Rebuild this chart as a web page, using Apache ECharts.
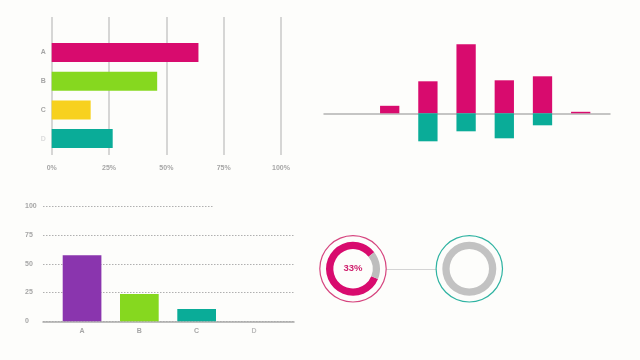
<!DOCTYPE html>
<html>
<head>
<meta charset="utf-8">
<script src="https://cdn.jsdelivr.net/npm/echarts@6/dist/echarts.min.js"></script>
<style>
html,body{margin:0;padding:0;background:#fdfdfb;}
#c{width:640px;height:360px;}
</style>
</head>
<body>
<div id="c"></div>
<script>
// ---- data ----
const hbarCategories = ['A', 'B', 'C', 'D'];
const hbarValues = [64, 46, 17, 26.6];
const pctTicks = [0, 25, 50, 75, 100];

const diffCategories = ['1', '2', '3', '4', '5', '6'];
const diffPositive = [7.5, 32, 69, 33, 37, 1.5];
const diffNegative = [0, -28, -18, -25, -12, 0];

const vbarCategories = ['A', 'B', 'C', 'D'];
const vbarValues = [57.4, 23.7, 10.7, 0];

const donutShare = [83.3, 16.7];
const donutLabel = '33%';

// ---- style ----
const MAG = '#d80b6e', GREEN = '#86d81f', YEL = '#f7d11f', TEAL = '#0aac98', PURPLE = '#8a35ae';
const lbl = {fontFamily: 'Liberation Sans', fontSize: 7, fontWeight: 'bold', color: '#a6a6a6'};
const hid = {show: false};

const chart = echarts.init(document.getElementById('c'));
chart.setOption({
  backgroundColor: '#fdfdfb',
  animation: false,
  grid: [
    {left: 51.7, width: 229.3, top: 17, height: 138},      // 0 top-left gridlines
    {left: 51.7, width: 229.3, top: 38.2, height: 114.7},  // 1 top-left bars
    {left: 324, width: 286, top: 13.3, height: 100},       // 2 top-right baseline
    {left: 370.6, width: 229.2, top: 33.3, height: 120},   // 3 top-right bars
    {left: 43, width: 251, top: 206.3, height: 115},       // 4 bottom-left axes
    {left: 43, width: 170, top: 206.3, height: 28.75},     // 5 partial 100 line
    {left: 53.4, width: 229.2, top: 206.3, height: 115},   // 6 bottom-left bars
    {left: 386.3, width: 49.7, top: 168.8, height: 100}    // 7 connector
  ],
  xAxis: [
    {gridIndex: 0, type: 'value', min: pctTicks[0], max: pctTicks[pctTicks.length - 1], interval: 25,
     axisLine: hid, axisTick: hid,
     splitLine: {show: true, lineStyle: {color: '#c9c9c9', width: 1.5}},
     axisLabel: Object.assign({formatter: '{value}%', margin: 10}, lbl)},
    {gridIndex: 1, type: 'value', min: 0, max: 100, show: false},
    {gridIndex: 2, type: 'value', min: 0, max: 1, axisLabel: hid, axisTick: hid, splitLine: hid,
     axisLine: {show: true, lineStyle: {color: '#b3b3b3', width: 1.5}}},
    {gridIndex: 3, type: 'category', data: diffCategories, show: false},
    {gridIndex: 4, type: 'value', min: 0, max: 1, axisLabel: hid, axisTick: hid, splitLine: hid,
     axisLine: {show: true, lineStyle: {color: '#a9a9a9', width: 1.5}}},
    {gridIndex: 5, type: 'value', show: false},
    {gridIndex: 6, type: 'category', data: vbarCategories, axisLine: hid, axisTick: hid,
     axisLabel: Object.assign({}, lbl, {margin: 6, color: function (v, i) { return i === 3 ? '#bdbdbd' : '#a6a6a6'; }})},
    {gridIndex: 7, type: 'value', min: 0, max: 1, axisLabel: hid, axisTick: hid, splitLine: hid,
     axisLine: {show: true, lineStyle: {color: '#d4d4d4', width: 1}}}
  ],
  yAxis: [
    {gridIndex: 0, type: 'value', show: false},
    {gridIndex: 1, type: 'category', data: hbarCategories, inverse: true, axisLine: hid, axisTick: hid,
     axisLabel: Object.assign({}, lbl, {margin: 6, color: function (v, i) { return i === 3 ? '#dcdcdc' : '#a6a6a6'; }})},
    {gridIndex: 2, type: 'value', show: false},
    {gridIndex: 3, type: 'value', min: -40, max: 80, show: false},
    {gridIndex: 4, type: 'value', min: 0, max: 100, interval: 25, axisLine: hid, axisTick: hid,
     splitLine: {show: true, showMaxLine: false, lineStyle: {color: '#b0b0b0', type: [1.5, 1.5], width: 1}},
     axisLabel: Object.assign({}, lbl, {align: 'left', margin: 18})},
    {gridIndex: 5, type: 'value', min: 75, max: 100, interval: 25, axisLine: hid, axisTick: hid, axisLabel: hid,
     splitLine: {show: true, showMinLine: false, lineStyle: {color: '#b0b0b0', type: [1.5, 1.5], width: 1}}},
    {gridIndex: 6, type: 'value', min: 0, max: 100, show: false},
    {gridIndex: 7, type: 'value', show: false}
  ],
  series: [
    {type: 'bar', xAxisIndex: 1, yAxisIndex: 1, barWidth: 19, silent: true,
     data: hbarValues.map((v, i) => ({value: v, itemStyle: {color: [MAG, GREEN, YEL, TEAL][i]}}))},
    {type: 'bar', xAxisIndex: 3, yAxisIndex: 3, barWidth: 19.3, barGap: '-100%', silent: true,
     itemStyle: {color: MAG}, data: diffPositive},
    {type: 'bar', xAxisIndex: 3, yAxisIndex: 3, barWidth: 19.3, barGap: '-100%', silent: true,
     itemStyle: {color: TEAL}, data: diffNegative},
    {type: 'bar', xAxisIndex: 6, yAxisIndex: 6, barWidth: 38.7, silent: true,
     data: vbarValues.map((v, i) => ({value: v, itemStyle: {color: [PURPLE, GREEN, TEAL, MAG][i]}}))},
    // left donut
    {type: 'pie', center: [353, 268.8], radius: [32.6, 33.8], silent: true, label: hid, labelLine: hid,
     itemStyle: {color: '#d6457f'}, data: [1]},
    {type: 'pie', center: [353, 268.8], radius: [19.7, 27], startAngle: -22, clockwise: true, silent: true,
     labelLine: hid,
     data: [
       {value: donutShare[0], itemStyle: {color: MAG},
        label: {show: true, position: 'center', formatter: donutLabel, fontFamily: 'Liberation Sans',
                fontSize: 9.5, fontWeight: 'bold', color: '#cf1f6d'}},
       {value: donutShare[1], itemStyle: {color: '#bdbdbd'}, label: hid}
     ]},
    // right donut
    {type: 'pie', center: [469.3, 268.8], radius: [32.6, 33.8], silent: true, label: hid, labelLine: hid,
     itemStyle: {color: '#2fb3a2'}, data: [1]},
    {type: 'pie', center: [469.3, 268.8], radius: [19.7, 27], silent: true, label: hid, labelLine: hid,
     itemStyle: {color: '#c2c2c2'}, data: [1]}
  ]
});
</script>
</body>
</html>
